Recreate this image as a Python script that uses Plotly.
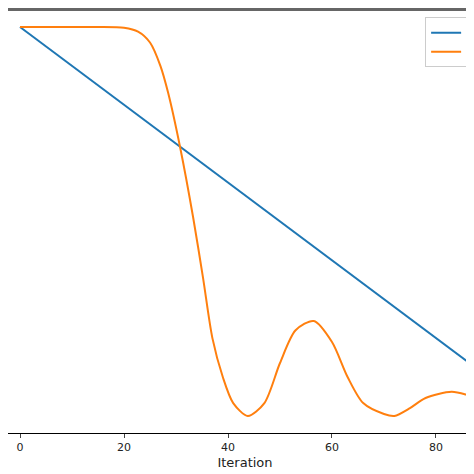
import plotly.graph_objects as go

iters = list(range(0, 101))
baseline = [1 - i / 100 for i in iters]

orange_x = [0, 5, 10, 15, 20, 22.7, 25, 27, 28.5, 30.8, 33.3, 35.2, 37, 39, 41, 43.8,
            47, 50, 53, 56.5, 60, 63, 66, 70, 72, 75, 78, 83, 86, 89, 92]
orange_y = [1.0, 1.0, 1.0, 1.0, 0.998, 0.988, 0.96, 0.9, 0.83, 0.69, 0.51, 0.355, 0.2, 0.1, 0.033, 0.0,
            0.033, 0.136, 0.22, 0.244, 0.19, 0.1, 0.033, 0.005, 0.0, 0.02, 0.046, 0.062, 0.054, 0.04, 0.03]

fig = go.Figure()
fig.add_trace(go.Scatter(x=iters, y=baseline, mode='lines', name='Constant',
                         line=dict(color='#1f77b4', width=2)))
fig.add_trace(go.Scatter(x=orange_x, y=orange_y, mode='lines', name='Fourier',
                         line=dict(color='#ff7f0e', width=2, shape='spline', smoothing=0.8)))

fig.update_layout(
    width=474, height=474,
    margin=dict(l=0, r=0, t=3, b=49, autoexpand=False),
    paper_bgcolor='white', plot_bgcolor='white',
    font=dict(family='DejaVu Sans', size=11, color='#222'),
    shapes=[dict(type='rect', xref='paper', yref='paper', x0=0, x1=1, y0=1, y1=1.008,
                 fillcolor='#666', line_width=0)],
    xaxis=dict(range=[-2.31, 88.85], tickvals=[0, 20, 40, 60, 80], showgrid=False, zeroline=False,
               showline=True, linecolor='black', linewidth=1, ticks='outside', ticklen=4,
               title=dict(text='Iteration', standoff=4)),
    yaxis=dict(range=[-0.044, 1.041], showgrid=False, zeroline=False, showticklabels=False,
               showline=False),
    legend=dict(x=0.88, y=0.985, xanchor='left', yanchor='top', bgcolor='white',
                bordercolor='#ccc', borderwidth=1, font=dict(size=12)),
)

fig.write_html("out.html")
